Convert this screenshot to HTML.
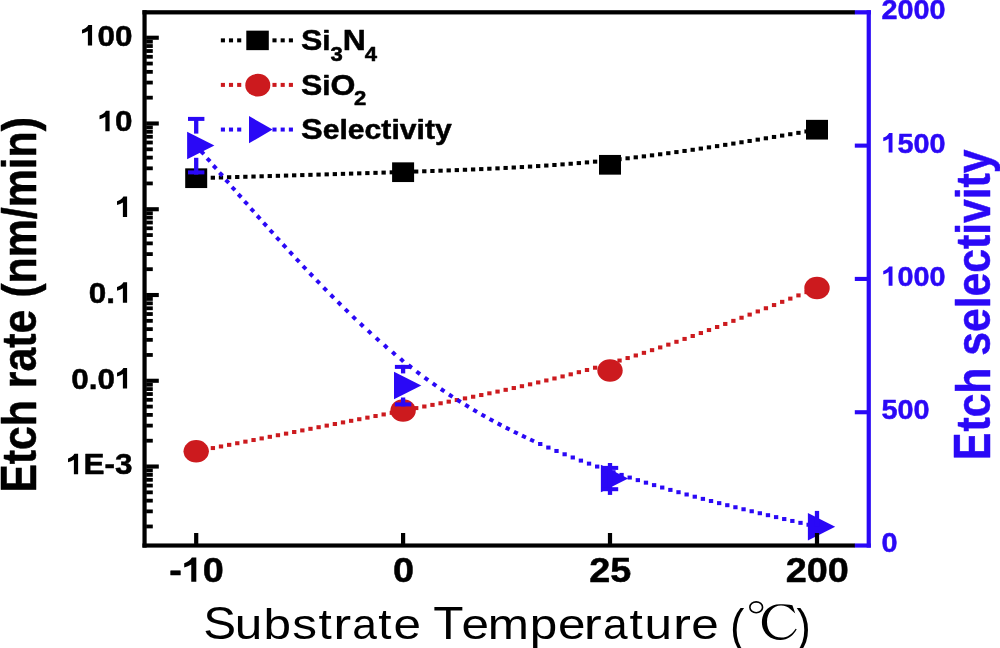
<!DOCTYPE html>
<html><head><meta charset="utf-8"><style>html,body{margin:0;padding:0;background:#fff;}svg{display:block;will-change:transform}</style></head>
<body><svg width="1000" height="648" viewBox="0 0 1000 648">
<rect width="1000" height="648" fill="#fff"/>
<g fill="#000"><rect x="-2.15" y="-2.00" width="4.3" height="4.0" transform="translate(196.57,178.19) rotate(0.0)"/><rect x="-2.15" y="-2.00" width="4.3" height="4.0" transform="translate(204.71,177.95) rotate(0.0)"/><rect x="-2.15" y="-2.00" width="4.3" height="4.0" transform="translate(212.84,177.72) rotate(0.0)"/><rect x="-2.15" y="-2.00" width="4.3" height="4.0" transform="translate(220.97,177.48) rotate(0.0)"/><rect x="-2.15" y="-2.00" width="4.3" height="4.0" transform="translate(229.11,177.24) rotate(0.0)"/><rect x="-2.15" y="-2.00" width="4.3" height="4.0" transform="translate(237.24,177.01) rotate(0.0)"/><rect x="-2.15" y="-2.00" width="4.3" height="4.0" transform="translate(245.37,176.77) rotate(0.0)"/><rect x="-2.15" y="-2.00" width="4.3" height="4.0" transform="translate(253.51,176.53) rotate(0.0)"/><rect x="-2.15" y="-2.00" width="4.3" height="4.0" transform="translate(261.64,176.29) rotate(0.0)"/><rect x="-2.15" y="-2.00" width="4.3" height="4.0" transform="translate(269.77,176.06) rotate(0.0)"/><rect x="-2.15" y="-2.00" width="4.3" height="4.0" transform="translate(277.90,175.82) rotate(0.0)"/><rect x="-2.15" y="-2.00" width="4.3" height="4.0" transform="translate(286.04,175.58) rotate(0.0)"/><rect x="-2.15" y="-2.00" width="4.3" height="4.0" transform="translate(294.17,175.33) rotate(0.0)"/><rect x="-2.15" y="-2.00" width="4.3" height="4.0" transform="translate(302.30,175.09) rotate(0.0)"/><rect x="-2.15" y="-2.00" width="4.3" height="4.0" transform="translate(310.44,174.85) rotate(0.0)"/><rect x="-2.15" y="-2.00" width="4.3" height="4.0" transform="translate(318.57,174.60) rotate(0.0)"/><rect x="-2.15" y="-2.00" width="4.3" height="4.0" transform="translate(326.70,174.36) rotate(0.0)"/><rect x="-2.15" y="-2.00" width="4.3" height="4.0" transform="translate(334.84,174.11) rotate(0.0)"/><rect x="-2.15" y="-2.00" width="4.3" height="4.0" transform="translate(342.97,173.86) rotate(0.0)"/><rect x="-2.15" y="-2.00" width="4.3" height="4.0" transform="translate(351.10,173.61) rotate(0.0)"/><rect x="-2.15" y="-2.00" width="4.3" height="4.0" transform="translate(359.23,173.36) rotate(0.0)"/><rect x="-2.15" y="-2.00" width="4.3" height="4.0" transform="translate(367.37,173.10) rotate(0.0)"/><rect x="-2.15" y="-2.00" width="4.3" height="4.0" transform="translate(375.50,172.85) rotate(0.0)"/><rect x="-2.15" y="-2.00" width="4.3" height="4.0" transform="translate(383.63,172.59) rotate(0.0)"/><rect x="-2.15" y="-2.00" width="4.3" height="4.0" transform="translate(391.77,172.33) rotate(0.0)"/><rect x="-2.15" y="-2.00" width="4.3" height="4.0" transform="translate(399.90,172.07) rotate(0.0)"/><rect x="-2.15" y="-2.00" width="4.3" height="4.0" transform="translate(408.03,171.81) rotate(0.0)"/><rect x="-2.15" y="-2.00" width="4.3" height="4.0" transform="translate(416.17,171.54) rotate(0.0)"/><rect x="-2.15" y="-2.00" width="4.3" height="4.0" transform="translate(424.30,171.27) rotate(0.0)"/><rect x="-2.15" y="-2.00" width="4.3" height="4.0" transform="translate(432.43,170.99) rotate(0.0)"/><rect x="-2.15" y="-2.00" width="4.3" height="4.0" transform="translate(440.56,170.70) rotate(0.0)"/><rect x="-2.15" y="-2.00" width="4.3" height="4.0" transform="translate(448.70,170.41) rotate(0.0)"/><rect x="-2.15" y="-2.00" width="4.3" height="4.0" transform="translate(456.83,170.10) rotate(0.0)"/><rect x="-2.15" y="-2.00" width="4.3" height="4.0" transform="translate(464.96,169.78) rotate(0.0)"/><rect x="-2.15" y="-2.00" width="4.3" height="4.0" transform="translate(473.10,169.45) rotate(0.0)"/><rect x="-2.15" y="-2.00" width="4.3" height="4.0" transform="translate(481.23,169.10) rotate(0.0)"/><rect x="-2.15" y="-2.00" width="4.3" height="4.0" transform="translate(489.36,168.73) rotate(0.0)"/><rect x="-2.15" y="-2.00" width="4.3" height="4.0" transform="translate(497.50,168.35) rotate(0.0)"/><rect x="-2.15" y="-2.00" width="4.3" height="4.0" transform="translate(505.63,167.94) rotate(0.0)"/><rect x="-2.15" y="-2.00" width="4.3" height="4.0" transform="translate(513.76,167.51) rotate(0.0)"/><rect x="-2.15" y="-2.00" width="4.3" height="4.0" transform="translate(521.89,167.06) rotate(0.0)"/><rect x="-2.15" y="-2.00" width="4.3" height="4.0" transform="translate(530.03,166.58) rotate(0.0)"/><rect x="-2.15" y="-2.00" width="4.3" height="4.0" transform="translate(538.16,166.08) rotate(0.0)"/><rect x="-2.15" y="-2.00" width="4.3" height="4.0" transform="translate(546.29,165.54) rotate(0.0)"/><rect x="-2.15" y="-2.00" width="4.3" height="4.0" transform="translate(554.43,164.98) rotate(0.0)"/><rect x="-2.15" y="-2.00" width="4.3" height="4.0" transform="translate(562.56,164.38) rotate(0.0)"/><rect x="-2.15" y="-2.00" width="4.3" height="4.0" transform="translate(570.69,163.75) rotate(0.0)"/><rect x="-2.15" y="-2.00" width="4.3" height="4.0" transform="translate(578.83,163.09) rotate(0.0)"/><rect x="-2.15" y="-2.00" width="4.3" height="4.0" transform="translate(586.96,162.39) rotate(0.0)"/><rect x="-2.15" y="-2.00" width="4.3" height="4.0" transform="translate(595.09,161.65) rotate(0.0)"/><rect x="-2.15" y="-2.00" width="4.3" height="4.0" transform="translate(603.22,160.87) rotate(0.0)"/><rect x="-2.15" y="-2.00" width="4.3" height="4.0" transform="translate(611.36,160.05) rotate(0.0)"/><rect x="-2.15" y="-2.00" width="4.3" height="4.0" transform="translate(619.49,159.18) rotate(0.0)"/><rect x="-2.15" y="-2.00" width="4.3" height="4.0" transform="translate(627.62,158.28) rotate(0.0)"/><rect x="-2.15" y="-2.00" width="4.3" height="4.0" transform="translate(635.76,157.34) rotate(0.0)"/><rect x="-2.15" y="-2.00" width="4.3" height="4.0" transform="translate(643.89,156.35) rotate(0.0)"/><rect x="-2.15" y="-2.00" width="4.3" height="4.0" transform="translate(652.02,155.34) rotate(0.0)"/><rect x="-2.15" y="-2.00" width="4.3" height="4.0" transform="translate(660.16,154.29) rotate(0.0)"/><rect x="-2.15" y="-2.00" width="4.3" height="4.0" transform="translate(668.29,153.21) rotate(0.0)"/><rect x="-2.15" y="-2.00" width="4.3" height="4.0" transform="translate(676.42,152.09) rotate(0.0)"/><rect x="-2.15" y="-2.00" width="4.3" height="4.0" transform="translate(684.55,150.95) rotate(0.0)"/><rect x="-2.15" y="-2.00" width="4.3" height="4.0" transform="translate(692.69,149.78) rotate(0.0)"/><rect x="-2.15" y="-2.00" width="4.3" height="4.0" transform="translate(700.82,148.58) rotate(0.0)"/><rect x="-2.15" y="-2.00" width="4.3" height="4.0" transform="translate(708.95,147.36) rotate(0.0)"/><rect x="-2.15" y="-2.00" width="4.3" height="4.0" transform="translate(717.09,146.12) rotate(0.0)"/><rect x="-2.15" y="-2.00" width="4.3" height="4.0" transform="translate(725.22,144.86) rotate(0.0)"/><rect x="-2.15" y="-2.00" width="4.3" height="4.0" transform="translate(733.35,143.58) rotate(0.0)"/><rect x="-2.15" y="-2.00" width="4.3" height="4.0" transform="translate(741.49,142.28) rotate(0.0)"/><rect x="-2.15" y="-2.00" width="4.3" height="4.0" transform="translate(749.62,140.97) rotate(0.0)"/><rect x="-2.15" y="-2.00" width="4.3" height="4.0" transform="translate(757.75,139.64) rotate(0.0)"/><rect x="-2.15" y="-2.00" width="4.3" height="4.0" transform="translate(765.88,138.30) rotate(0.0)"/><rect x="-2.15" y="-2.00" width="4.3" height="4.0" transform="translate(774.02,136.95) rotate(0.0)"/><rect x="-2.15" y="-2.00" width="4.3" height="4.0" transform="translate(782.15,135.59) rotate(0.0)"/><rect x="-2.15" y="-2.00" width="4.3" height="4.0" transform="translate(790.28,134.22) rotate(0.0)"/><rect x="-2.15" y="-2.00" width="4.3" height="4.0" transform="translate(798.42,132.85) rotate(0.0)"/><rect x="-2.15" y="-2.00" width="4.3" height="4.0" transform="translate(806.55,131.47) rotate(0.0)"/><rect x="-2.15" y="-2.00" width="4.3" height="4.0" transform="translate(814.68,130.09) rotate(0.0)"/></g>
<g fill="#cc1a1e"><rect x="-2.15" y="-2.00" width="4.3" height="4.0" transform="translate(196.61,451.27) rotate(0.0)"/><rect x="-2.15" y="-2.00" width="4.3" height="4.0" transform="translate(204.75,449.66) rotate(0.0)"/><rect x="-2.15" y="-2.00" width="4.3" height="4.0" transform="translate(212.88,448.06) rotate(0.0)"/><rect x="-2.15" y="-2.00" width="4.3" height="4.0" transform="translate(221.01,446.45) rotate(0.0)"/><rect x="-2.15" y="-2.00" width="4.3" height="4.0" transform="translate(229.15,444.85) rotate(0.0)"/><rect x="-2.15" y="-2.00" width="4.3" height="4.0" transform="translate(237.28,443.24) rotate(0.0)"/><rect x="-2.15" y="-2.00" width="4.3" height="4.0" transform="translate(245.41,441.64) rotate(0.0)"/><rect x="-2.15" y="-2.00" width="4.3" height="4.0" transform="translate(253.55,440.03) rotate(0.0)"/><rect x="-2.15" y="-2.00" width="4.3" height="4.0" transform="translate(261.68,438.43) rotate(0.0)"/><rect x="-2.15" y="-2.00" width="4.3" height="4.0" transform="translate(269.81,436.82) rotate(0.0)"/><rect x="-2.15" y="-2.00" width="4.3" height="4.0" transform="translate(277.94,435.22) rotate(0.0)"/><rect x="-2.15" y="-2.00" width="4.3" height="4.0" transform="translate(286.08,433.62) rotate(0.0)"/><rect x="-2.15" y="-2.00" width="4.3" height="4.0" transform="translate(294.21,432.01) rotate(0.0)"/><rect x="-2.15" y="-2.00" width="4.3" height="4.0" transform="translate(302.34,430.41) rotate(0.0)"/><rect x="-2.15" y="-2.00" width="4.3" height="4.0" transform="translate(310.48,428.81) rotate(0.0)"/><rect x="-2.15" y="-2.00" width="4.3" height="4.0" transform="translate(318.61,427.21) rotate(0.0)"/><rect x="-2.15" y="-2.00" width="4.3" height="4.0" transform="translate(326.74,425.61) rotate(0.0)"/><rect x="-2.15" y="-2.00" width="4.3" height="4.0" transform="translate(334.88,424.01) rotate(0.0)"/><rect x="-2.15" y="-2.00" width="4.3" height="4.0" transform="translate(343.01,422.41) rotate(0.0)"/><rect x="-2.15" y="-2.00" width="4.3" height="4.0" transform="translate(351.14,420.82) rotate(0.0)"/><rect x="-2.15" y="-2.00" width="4.3" height="4.0" transform="translate(359.27,419.22) rotate(0.0)"/><rect x="-2.15" y="-2.00" width="4.3" height="4.0" transform="translate(367.41,417.63) rotate(0.0)"/><rect x="-2.15" y="-2.00" width="4.3" height="4.0" transform="translate(375.54,416.03) rotate(0.0)"/><rect x="-2.15" y="-2.00" width="4.3" height="4.0" transform="translate(383.67,414.44) rotate(0.0)"/><rect x="-2.15" y="-2.00" width="4.3" height="4.0" transform="translate(391.81,412.85) rotate(0.0)"/><rect x="-2.15" y="-2.00" width="4.3" height="4.0" transform="translate(399.94,411.26) rotate(0.0)"/><rect x="-2.15" y="-2.00" width="4.3" height="4.0" transform="translate(408.07,409.67) rotate(0.0)"/><rect x="-2.15" y="-2.00" width="4.3" height="4.0" transform="translate(416.21,408.08) rotate(0.0)"/><rect x="-2.15" y="-2.00" width="4.3" height="4.0" transform="translate(424.34,406.49) rotate(0.0)"/><rect x="-2.15" y="-2.00" width="4.3" height="4.0" transform="translate(432.47,404.89) rotate(0.0)"/><rect x="-2.15" y="-2.00" width="4.3" height="4.0" transform="translate(440.60,403.28) rotate(0.0)"/><rect x="-2.15" y="-2.00" width="4.3" height="4.0" transform="translate(448.74,401.67) rotate(0.0)"/><rect x="-2.15" y="-2.00" width="4.3" height="4.0" transform="translate(456.87,400.04) rotate(0.0)"/><rect x="-2.15" y="-2.00" width="4.3" height="4.0" transform="translate(465.00,398.39) rotate(0.0)"/><rect x="-2.15" y="-2.00" width="4.3" height="4.0" transform="translate(473.14,396.73) rotate(0.0)"/><rect x="-2.15" y="-2.00" width="4.3" height="4.0" transform="translate(481.27,395.04) rotate(0.0)"/><rect x="-2.15" y="-2.00" width="4.3" height="4.0" transform="translate(489.40,393.33) rotate(0.0)"/><rect x="-2.15" y="-2.00" width="4.3" height="4.0" transform="translate(497.54,391.59) rotate(0.0)"/><rect x="-2.15" y="-2.00" width="4.3" height="4.0" transform="translate(505.67,389.83) rotate(0.0)"/><rect x="-2.15" y="-2.00" width="4.3" height="4.0" transform="translate(513.80,388.03) rotate(0.0)"/><rect x="-2.15" y="-2.00" width="4.3" height="4.0" transform="translate(521.93,386.20) rotate(0.0)"/><rect x="-2.15" y="-2.00" width="4.3" height="4.0" transform="translate(530.07,384.33) rotate(0.0)"/><rect x="-2.15" y="-2.00" width="4.3" height="4.0" transform="translate(538.20,382.42) rotate(0.0)"/><rect x="-2.15" y="-2.00" width="4.3" height="4.0" transform="translate(546.33,380.46) rotate(0.0)"/><rect x="-2.15" y="-2.00" width="4.3" height="4.0" transform="translate(554.47,378.47) rotate(0.0)"/><rect x="-2.15" y="-2.00" width="4.3" height="4.0" transform="translate(562.60,376.42) rotate(0.0)"/><rect x="-2.15" y="-2.00" width="4.3" height="4.0" transform="translate(570.73,374.33) rotate(0.0)"/><rect x="-2.15" y="-2.00" width="4.3" height="4.0" transform="translate(578.87,372.18) rotate(0.0)"/><rect x="-2.15" y="-2.00" width="4.3" height="4.0" transform="translate(587.00,369.98) rotate(0.0)"/><rect x="-2.15" y="-2.00" width="4.3" height="4.0" transform="translate(595.13,367.71) rotate(0.0)"/><rect x="-2.15" y="-2.00" width="4.3" height="4.0" transform="translate(603.26,365.39) rotate(0.0)"/><rect x="-2.15" y="-2.00" width="4.3" height="4.0" transform="translate(611.40,363.01) rotate(0.0)"/><rect x="-2.15" y="-2.00" width="4.3" height="4.0" transform="translate(619.53,360.56) rotate(0.0)"/><rect x="-2.15" y="-2.00" width="4.3" height="4.0" transform="translate(627.66,358.04) rotate(0.0)"/><rect x="-2.15" y="-2.00" width="4.3" height="4.0" transform="translate(635.80,355.47) rotate(0.0)"/><rect x="-2.15" y="-2.00" width="4.3" height="4.0" transform="translate(643.93,352.84) rotate(0.0)"/><rect x="-2.15" y="-2.00" width="4.3" height="4.0" transform="translate(652.06,350.16) rotate(0.0)"/><rect x="-2.15" y="-2.00" width="4.3" height="4.0" transform="translate(660.20,347.42) rotate(0.0)"/><rect x="-2.15" y="-2.00" width="4.3" height="4.0" transform="translate(668.33,344.63) rotate(0.0)"/><rect x="-2.15" y="-2.00" width="4.3" height="4.0" transform="translate(676.46,341.80) rotate(0.0)"/><rect x="-2.15" y="-2.00" width="4.3" height="4.0" transform="translate(684.59,338.92) rotate(0.0)"/><rect x="-2.15" y="-2.00" width="4.3" height="4.0" transform="translate(692.73,336.00) rotate(0.0)"/><rect x="-2.15" y="-2.00" width="4.3" height="4.0" transform="translate(700.86,333.04) rotate(0.0)"/><rect x="-2.15" y="-2.00" width="4.3" height="4.0" transform="translate(708.99,330.04) rotate(0.0)"/><rect x="-2.15" y="-2.00" width="4.3" height="4.0" transform="translate(717.13,327.01) rotate(0.0)"/><rect x="-2.15" y="-2.00" width="4.3" height="4.0" transform="translate(725.26,323.95) rotate(0.0)"/><rect x="-2.15" y="-2.00" width="4.3" height="4.0" transform="translate(733.39,320.86) rotate(0.0)"/><rect x="-2.15" y="-2.00" width="4.3" height="4.0" transform="translate(741.53,317.74) rotate(0.0)"/><rect x="-2.15" y="-2.00" width="4.3" height="4.0" transform="translate(749.66,314.60) rotate(0.0)"/><rect x="-2.15" y="-2.00" width="4.3" height="4.0" transform="translate(757.79,311.43) rotate(0.0)"/><rect x="-2.15" y="-2.00" width="4.3" height="4.0" transform="translate(765.92,308.25) rotate(0.0)"/><rect x="-2.15" y="-2.00" width="4.3" height="4.0" transform="translate(774.06,305.05) rotate(0.0)"/><rect x="-2.15" y="-2.00" width="4.3" height="4.0" transform="translate(782.19,301.84) rotate(0.0)"/><rect x="-2.15" y="-2.00" width="4.3" height="4.0" transform="translate(790.32,298.62) rotate(0.0)"/><rect x="-2.15" y="-2.00" width="4.3" height="4.0" transform="translate(798.46,295.39) rotate(0.0)"/><rect x="-2.15" y="-2.00" width="4.3" height="4.0" transform="translate(806.59,292.15) rotate(0.0)"/><rect x="-2.15" y="-2.00" width="4.3" height="4.0" transform="translate(814.72,288.91) rotate(0.0)"/></g>
<g fill="#2a08f6"><rect x="-2.15" y="-2.00" width="4.3" height="4.0" transform="translate(196.20,145.50) rotate(45.0)"/><rect x="-2.15" y="-2.00" width="4.3" height="4.0" transform="translate(202.39,152.68) rotate(45.0)"/><rect x="-2.15" y="-2.00" width="4.3" height="4.0" transform="translate(208.59,159.86) rotate(45.0)"/><rect x="-2.15" y="-2.00" width="4.3" height="4.0" transform="translate(214.79,167.04) rotate(45.0)"/><rect x="-2.15" y="-2.00" width="4.3" height="4.0" transform="translate(221.00,174.22) rotate(45.0)"/><rect x="-2.15" y="-2.00" width="4.3" height="4.0" transform="translate(227.23,181.40) rotate(45.0)"/><rect x="-2.15" y="-2.00" width="4.3" height="4.0" transform="translate(233.47,188.58) rotate(45.0)"/><rect x="-2.15" y="-2.00" width="4.3" height="4.0" transform="translate(239.73,195.76) rotate(45.0)"/><rect x="-2.15" y="-2.00" width="4.3" height="4.0" transform="translate(246.02,202.94) rotate(45.0)"/><rect x="-2.15" y="-2.00" width="4.3" height="4.0" transform="translate(252.34,210.12) rotate(45.0)"/><rect x="-2.15" y="-2.00" width="4.3" height="4.0" transform="translate(258.69,217.30) rotate(45.0)"/><rect x="-2.15" y="-2.00" width="4.3" height="4.0" transform="translate(265.08,224.48) rotate(45.0)"/><rect x="-2.15" y="-2.00" width="4.3" height="4.0" transform="translate(271.51,231.66) rotate(45.0)"/><rect x="-2.15" y="-2.00" width="4.3" height="4.0" transform="translate(277.99,238.84) rotate(45.0)"/><rect x="-2.15" y="-2.00" width="4.3" height="4.0" transform="translate(284.52,246.02) rotate(45.0)"/><rect x="-2.15" y="-2.00" width="4.3" height="4.0" transform="translate(291.10,253.20) rotate(45.0)"/><rect x="-2.15" y="-2.00" width="4.3" height="4.0" transform="translate(297.75,260.38) rotate(45.0)"/><rect x="-2.15" y="-2.00" width="4.3" height="4.0" transform="translate(304.47,267.56) rotate(45.0)"/><rect x="-2.15" y="-2.00" width="4.3" height="4.0" transform="translate(311.27,274.74) rotate(45.0)"/><rect x="-2.15" y="-2.00" width="4.3" height="4.0" transform="translate(318.15,281.92) rotate(45.0)"/><rect x="-2.15" y="-2.00" width="4.3" height="4.0" transform="translate(325.13,289.10) rotate(45.0)"/><rect x="-2.15" y="-2.00" width="4.3" height="4.0" transform="translate(332.21,296.28) rotate(45.0)"/><rect x="-2.15" y="-2.00" width="4.3" height="4.0" transform="translate(339.40,303.46) rotate(45.0)"/><rect x="-2.15" y="-2.00" width="4.3" height="4.0" transform="translate(346.72,310.64) rotate(45.0)"/><rect x="-2.15" y="-2.00" width="4.3" height="4.0" transform="translate(354.18,317.82) rotate(45.0)"/><rect x="-2.15" y="-2.00" width="4.3" height="4.0" transform="translate(361.80,325.00) rotate(45.0)"/><rect x="-2.15" y="-2.00" width="4.3" height="4.0" transform="translate(369.59,332.18) rotate(45.0)"/><rect x="-2.15" y="-2.00" width="4.3" height="4.0" transform="translate(377.58,339.36) rotate(45.0)"/><rect x="-2.15" y="-2.00" width="4.3" height="4.0" transform="translate(385.71,346.47) rotate(45.0)"/><rect x="-2.15" y="-2.00" width="4.3" height="4.0" transform="translate(393.85,353.37) rotate(45.0)"/><rect x="-2.15" y="-2.00" width="4.3" height="4.0" transform="translate(401.98,360.06) rotate(45.0)"/><rect x="-2.15" y="-2.00" width="4.3" height="4.0" transform="translate(410.11,366.52) rotate(38.0)"/><rect x="-2.15" y="-2.00" width="4.3" height="4.0" transform="translate(418.24,372.77) rotate(37.0)"/><rect x="-2.15" y="-2.00" width="4.3" height="4.0" transform="translate(426.38,378.79) rotate(36.1)"/><rect x="-2.15" y="-2.00" width="4.3" height="4.0" transform="translate(434.51,384.61) rotate(35.1)"/><rect x="-2.15" y="-2.00" width="4.3" height="4.0" transform="translate(442.64,390.22) rotate(34.1)"/><rect x="-2.15" y="-2.00" width="4.3" height="4.0" transform="translate(450.78,395.64) rotate(33.1)"/><rect x="-2.15" y="-2.00" width="4.3" height="4.0" transform="translate(458.91,400.87) rotate(32.3)"/><rect x="-2.15" y="-2.00" width="4.3" height="4.0" transform="translate(467.04,405.91) rotate(31.4)"/><rect x="-2.15" y="-2.00" width="4.3" height="4.0" transform="translate(475.18,410.77) rotate(30.4)"/><rect x="-2.15" y="-2.00" width="4.3" height="4.0" transform="translate(483.31,415.46) rotate(29.5)"/><rect x="-2.15" y="-2.00" width="4.3" height="4.0" transform="translate(491.44,419.99) rotate(28.6)"/><rect x="-2.15" y="-2.00" width="4.3" height="4.0" transform="translate(499.57,424.36) rotate(27.8)"/><rect x="-2.15" y="-2.00" width="4.3" height="4.0" transform="translate(507.71,428.57) rotate(26.9)"/><rect x="-2.15" y="-2.00" width="4.3" height="4.0" transform="translate(515.84,432.63) rotate(26.2)"/><rect x="-2.15" y="-2.00" width="4.3" height="4.0" transform="translate(523.97,436.56) rotate(25.4)"/><rect x="-2.15" y="-2.00" width="4.3" height="4.0" transform="translate(532.11,440.35) rotate(24.6)"/><rect x="-2.15" y="-2.00" width="4.3" height="4.0" transform="translate(540.24,444.01) rotate(0.0)"/><rect x="-2.15" y="-2.00" width="4.3" height="4.0" transform="translate(548.37,447.55) rotate(0.0)"/><rect x="-2.15" y="-2.00" width="4.3" height="4.0" transform="translate(556.51,450.97) rotate(0.0)"/><rect x="-2.15" y="-2.00" width="4.3" height="4.0" transform="translate(564.64,454.28) rotate(0.0)"/><rect x="-2.15" y="-2.00" width="4.3" height="4.0" transform="translate(572.77,457.49) rotate(0.0)"/><rect x="-2.15" y="-2.00" width="4.3" height="4.0" transform="translate(580.90,460.60) rotate(0.0)"/><rect x="-2.15" y="-2.00" width="4.3" height="4.0" transform="translate(589.04,463.62) rotate(0.0)"/><rect x="-2.15" y="-2.00" width="4.3" height="4.0" transform="translate(597.17,466.55) rotate(0.0)"/><rect x="-2.15" y="-2.00" width="4.3" height="4.0" transform="translate(605.30,469.40) rotate(0.0)"/><rect x="-2.15" y="-2.00" width="4.3" height="4.0" transform="translate(613.44,472.19) rotate(0.0)"/><rect x="-2.15" y="-2.00" width="4.3" height="4.0" transform="translate(621.57,474.90) rotate(0.0)"/><rect x="-2.15" y="-2.00" width="4.3" height="4.0" transform="translate(629.70,477.55) rotate(0.0)"/><rect x="-2.15" y="-2.00" width="4.3" height="4.0" transform="translate(637.84,480.13) rotate(0.0)"/><rect x="-2.15" y="-2.00" width="4.3" height="4.0" transform="translate(645.97,482.66) rotate(0.0)"/><rect x="-2.15" y="-2.00" width="4.3" height="4.0" transform="translate(654.10,485.12) rotate(0.0)"/><rect x="-2.15" y="-2.00" width="4.3" height="4.0" transform="translate(662.23,487.54) rotate(0.0)"/><rect x="-2.15" y="-2.00" width="4.3" height="4.0" transform="translate(670.37,489.90) rotate(0.0)"/><rect x="-2.15" y="-2.00" width="4.3" height="4.0" transform="translate(678.50,492.21) rotate(0.0)"/><rect x="-2.15" y="-2.00" width="4.3" height="4.0" transform="translate(686.63,494.48) rotate(0.0)"/><rect x="-2.15" y="-2.00" width="4.3" height="4.0" transform="translate(694.77,496.70) rotate(0.0)"/><rect x="-2.15" y="-2.00" width="4.3" height="4.0" transform="translate(702.90,498.88) rotate(0.0)"/><rect x="-2.15" y="-2.00" width="4.3" height="4.0" transform="translate(711.03,501.02) rotate(0.0)"/><rect x="-2.15" y="-2.00" width="4.3" height="4.0" transform="translate(719.17,503.13) rotate(0.0)"/><rect x="-2.15" y="-2.00" width="4.3" height="4.0" transform="translate(727.30,505.20) rotate(0.0)"/><rect x="-2.15" y="-2.00" width="4.3" height="4.0" transform="translate(735.43,507.25) rotate(0.0)"/><rect x="-2.15" y="-2.00" width="4.3" height="4.0" transform="translate(743.56,509.27) rotate(0.0)"/><rect x="-2.15" y="-2.00" width="4.3" height="4.0" transform="translate(751.70,511.26) rotate(0.0)"/><rect x="-2.15" y="-2.00" width="4.3" height="4.0" transform="translate(759.83,513.23) rotate(0.0)"/><rect x="-2.15" y="-2.00" width="4.3" height="4.0" transform="translate(767.96,515.18) rotate(0.0)"/><rect x="-2.15" y="-2.00" width="4.3" height="4.0" transform="translate(776.10,517.12) rotate(0.0)"/><rect x="-2.15" y="-2.00" width="4.3" height="4.0" transform="translate(784.23,519.04) rotate(0.0)"/><rect x="-2.15" y="-2.00" width="4.3" height="4.0" transform="translate(792.36,520.95) rotate(0.0)"/><rect x="-2.15" y="-2.00" width="4.3" height="4.0" transform="translate(800.50,522.85) rotate(0.0)"/><rect x="-2.15" y="-2.00" width="4.3" height="4.0" transform="translate(808.63,524.75) rotate(0.0)"/><rect x="-2.15" y="-2.00" width="4.3" height="4.0" transform="translate(816.76,526.64) rotate(0.0)"/></g>
<rect x="185.20" y="168.35" width="22.00" height="19.70" fill="#000"/>
<rect x="392.10" y="162.35" width="22.00" height="19.70" fill="#000"/>
<rect x="599.00" y="154.95" width="22.00" height="19.70" fill="#000"/>
<rect x="806.00" y="119.85" width="22.00" height="19.70" fill="#000"/>
<ellipse cx="196.20" cy="451.35" rx="12.7" ry="11.25" fill="#cc1a1e"/>
<ellipse cx="403.10" cy="410.50" rx="12.7" ry="11.25" fill="#cc1a1e"/>
<ellipse cx="610.00" cy="370.50" rx="12.7" ry="11.25" fill="#cc1a1e"/>
<ellipse cx="817.00" cy="288.00" rx="12.7" ry="11.25" fill="#cc1a1e"/>
<polygon points="187.10,131.70 187.10,159.30 214.40,145.50" fill="#2a08f6"/>
<polygon points="394.00,371.65 394.00,399.25 421.30,385.45" fill="#2a08f6"/>
<polygon points="600.90,464.70 600.90,492.30 628.20,478.50" fill="#2a08f6"/>
<polygon points="807.90,512.90 807.90,540.50 835.20,526.70" fill="#2a08f6"/>
<rect x="194.05" y="117.00" width="4.30" height="16.60" fill="#2a08f6"/><rect x="194.05" y="157.80" width="4.30" height="16.80" fill="#2a08f6"/><rect x="188.00" y="116.90" width="16.40" height="4.00" fill="#2a08f6"/><rect x="188.00" y="170.40" width="16.40" height="4.00" fill="#2a08f6"/>
<rect x="400.95" y="364.90" width="4.30" height="8.50" fill="#2a08f6"/><rect x="400.95" y="397.50" width="4.30" height="8.90" fill="#2a08f6"/><rect x="394.90" y="364.90" width="16.40" height="4.00" fill="#2a08f6"/><rect x="394.90" y="402.40" width="16.40" height="4.00" fill="#2a08f6"/>
<rect x="607.85" y="463.00" width="4.30" height="31.90" fill="#2a08f6"/><rect x="601.80" y="465.90" width="16.40" height="4.00" fill="#2a08f6"/><rect x="601.80" y="487.20" width="16.40" height="4.00" fill="#2a08f6"/>
<rect x="814.85" y="510.90" width="4.30" height="15.80" fill="#2a08f6"/>
<rect x="142.45" y="10.20" width="4.20" height="537.40" fill="#000"/>
<rect x="142.45" y="10.20" width="712.55" height="4.25" fill="#000"/>
<rect x="142.45" y="543.45" width="712.55" height="4.15" fill="#000"/>
<rect x="854.80" y="10.20" width="16.05" height="4.25" fill="#2a08f6"/>
<rect x="854.80" y="543.45" width="16.05" height="4.15" fill="#2a08f6"/>
<rect x="866.65" y="10.20" width="4.20" height="537.40" fill="#2a08f6"/>
<rect x="146.15" y="524.57" width="6.65" height="3.80" fill="#000"/>
<rect x="146.15" y="509.47" width="6.65" height="3.80" fill="#000"/>
<rect x="146.15" y="498.76" width="6.65" height="3.80" fill="#000"/>
<rect x="146.15" y="490.45" width="6.65" height="3.80" fill="#000"/>
<rect x="146.15" y="483.66" width="6.65" height="3.80" fill="#000"/>
<rect x="146.15" y="477.91" width="6.65" height="3.80" fill="#000"/>
<rect x="146.15" y="472.94" width="6.65" height="3.80" fill="#000"/>
<rect x="146.15" y="468.55" width="6.65" height="3.80" fill="#000"/>
<rect x="146.15" y="464.48" width="12.65" height="4.10" fill="#000"/>
<rect x="146.15" y="438.81" width="6.65" height="3.80" fill="#000"/>
<rect x="146.15" y="423.71" width="6.65" height="3.80" fill="#000"/>
<rect x="146.15" y="413.00" width="6.65" height="3.80" fill="#000"/>
<rect x="146.15" y="404.69" width="6.65" height="3.80" fill="#000"/>
<rect x="146.15" y="397.90" width="6.65" height="3.80" fill="#000"/>
<rect x="146.15" y="392.15" width="6.65" height="3.80" fill="#000"/>
<rect x="146.15" y="387.18" width="6.65" height="3.80" fill="#000"/>
<rect x="146.15" y="382.79" width="6.65" height="3.80" fill="#000"/>
<rect x="146.15" y="378.72" width="12.65" height="4.10" fill="#000"/>
<rect x="146.15" y="353.05" width="6.65" height="3.80" fill="#000"/>
<rect x="146.15" y="337.95" width="6.65" height="3.80" fill="#000"/>
<rect x="146.15" y="327.24" width="6.65" height="3.80" fill="#000"/>
<rect x="146.15" y="318.93" width="6.65" height="3.80" fill="#000"/>
<rect x="146.15" y="312.14" width="6.65" height="3.80" fill="#000"/>
<rect x="146.15" y="306.39" width="6.65" height="3.80" fill="#000"/>
<rect x="146.15" y="301.42" width="6.65" height="3.80" fill="#000"/>
<rect x="146.15" y="297.03" width="6.65" height="3.80" fill="#000"/>
<rect x="146.15" y="292.96" width="12.65" height="4.10" fill="#000"/>
<rect x="146.15" y="267.29" width="6.65" height="3.80" fill="#000"/>
<rect x="146.15" y="252.19" width="6.65" height="3.80" fill="#000"/>
<rect x="146.15" y="241.48" width="6.65" height="3.80" fill="#000"/>
<rect x="146.15" y="233.17" width="6.65" height="3.80" fill="#000"/>
<rect x="146.15" y="226.38" width="6.65" height="3.80" fill="#000"/>
<rect x="146.15" y="220.63" width="6.65" height="3.80" fill="#000"/>
<rect x="146.15" y="215.66" width="6.65" height="3.80" fill="#000"/>
<rect x="146.15" y="211.27" width="6.65" height="3.80" fill="#000"/>
<rect x="146.15" y="207.20" width="12.65" height="4.10" fill="#000"/>
<rect x="146.15" y="181.53" width="6.65" height="3.80" fill="#000"/>
<rect x="146.15" y="166.43" width="6.65" height="3.80" fill="#000"/>
<rect x="146.15" y="155.72" width="6.65" height="3.80" fill="#000"/>
<rect x="146.15" y="147.41" width="6.65" height="3.80" fill="#000"/>
<rect x="146.15" y="140.62" width="6.65" height="3.80" fill="#000"/>
<rect x="146.15" y="134.87" width="6.65" height="3.80" fill="#000"/>
<rect x="146.15" y="129.90" width="6.65" height="3.80" fill="#000"/>
<rect x="146.15" y="125.51" width="6.65" height="3.80" fill="#000"/>
<rect x="146.15" y="121.44" width="12.65" height="4.10" fill="#000"/>
<rect x="146.15" y="95.77" width="6.65" height="3.80" fill="#000"/>
<rect x="146.15" y="80.67" width="6.65" height="3.80" fill="#000"/>
<rect x="146.15" y="69.96" width="6.65" height="3.80" fill="#000"/>
<rect x="146.15" y="61.65" width="6.65" height="3.80" fill="#000"/>
<rect x="146.15" y="54.86" width="6.65" height="3.80" fill="#000"/>
<rect x="146.15" y="49.11" width="6.65" height="3.80" fill="#000"/>
<rect x="146.15" y="44.14" width="6.65" height="3.80" fill="#000"/>
<rect x="146.15" y="39.75" width="6.65" height="3.80" fill="#000"/>
<rect x="146.15" y="35.68" width="12.65" height="4.10" fill="#000"/>
<rect x="194.10" y="533.00" width="4.20" height="10.95" fill="#000"/>
<rect x="401.00" y="533.00" width="4.20" height="10.95" fill="#000"/>
<rect x="607.90" y="533.00" width="4.20" height="10.95" fill="#000"/>
<rect x="814.90" y="533.00" width="4.20" height="10.95" fill="#000"/>
<rect x="854.80" y="410.19" width="12.35" height="4.10" fill="#2a08f6"/>
<rect x="854.80" y="276.88" width="12.35" height="4.10" fill="#2a08f6"/>
<rect x="854.80" y="143.57" width="12.35" height="4.10" fill="#2a08f6"/>
<g transform="translate(132.50,474.33) scale(1.0600,1)" fill="#000" stroke="#000" stroke-width="0.5" stroke-linejoin="round"><path d="M 788 0 L 788 1420 L 548 1420 Q 480 1290 370 1215 Q 260 1140 132 1090 L 132 830 Q 340 895 514 1010 L 514 0 Z" transform="translate(-62.74,0) scale(0.01450,-0.01450)"/><text x="-46.22" y="0" font-family="Liberation Sans" font-weight="bold" font-size="29.7">E-3</text></g>
<g transform="translate(132.50,388.57) scale(1.0600,1)" fill="#000" stroke="#000" stroke-width="0.5" stroke-linejoin="round"><text x="-57.80" y="0" font-family="Liberation Sans" font-weight="bold" font-size="29.7">0.0</text><path d="M 788 0 L 788 1420 L 548 1420 Q 480 1290 370 1215 Q 260 1140 132 1090 L 132 830 Q 340 895 514 1010 L 514 0 Z" transform="translate(-16.52,0) scale(0.01450,-0.01450)"/></g>
<g transform="translate(132.50,302.81) scale(1.0600,1)" fill="#000" stroke="#000" stroke-width="0.5" stroke-linejoin="round"><text x="-41.29" y="0" font-family="Liberation Sans" font-weight="bold" font-size="29.7">0.</text><path d="M 788 0 L 788 1420 L 548 1420 Q 480 1290 370 1215 Q 260 1140 132 1090 L 132 830 Q 340 895 514 1010 L 514 0 Z" transform="translate(-16.52,0) scale(0.01450,-0.01450)"/></g>
<g transform="translate(132.50,217.05) scale(1.0600,1)" fill="#000" stroke="#000" stroke-width="0.5" stroke-linejoin="round"><path d="M 788 0 L 788 1420 L 548 1420 Q 480 1290 370 1215 Q 260 1140 132 1090 L 132 830 Q 340 895 514 1010 L 514 0 Z" transform="translate(-16.52,0) scale(0.01450,-0.01450)"/></g>
<g transform="translate(132.50,131.29) scale(1.0600,1)" fill="#000" stroke="#000" stroke-width="0.5" stroke-linejoin="round"><path d="M 788 0 L 788 1420 L 548 1420 Q 480 1290 370 1215 Q 260 1140 132 1090 L 132 830 Q 340 895 514 1010 L 514 0 Z" transform="translate(-33.04,0) scale(0.01450,-0.01450)"/><text x="-16.52" y="0" font-family="Liberation Sans" font-weight="bold" font-size="29.7">0</text></g>
<g transform="translate(132.50,45.53) scale(1.0600,1)" fill="#000" stroke="#000" stroke-width="0.5" stroke-linejoin="round"><path d="M 788 0 L 788 1420 L 548 1420 Q 480 1290 370 1215 Q 260 1140 132 1090 L 132 830 Q 340 895 514 1010 L 514 0 Z" transform="translate(-49.55,0) scale(0.01450,-0.01450)"/><text x="-33.04" y="0" font-family="Liberation Sans" font-weight="bold" font-size="29.7">00</text></g>
<g transform="translate(881.40,552.45) scale(1.0300,1)" fill="#2a08f6" stroke="#2a08f6" stroke-width="0.5" stroke-linejoin="round"><text x="0.00" y="0" font-family="Liberation Sans" font-weight="bold" font-size="28.0">0</text></g>
<g transform="translate(881.40,419.14) scale(1.0300,1)" fill="#2a08f6" stroke="#2a08f6" stroke-width="0.5" stroke-linejoin="round"><text x="0.00" y="0" font-family="Liberation Sans" font-weight="bold" font-size="28.0">500</text></g>
<g transform="translate(881.40,285.83) scale(1.0300,1)" fill="#2a08f6" stroke="#2a08f6" stroke-width="0.5" stroke-linejoin="round"><path d="M 788 0 L 788 1420 L 548 1420 Q 480 1290 370 1215 Q 260 1140 132 1090 L 132 830 Q 340 895 514 1010 L 514 0 Z" transform="translate(0.00,0) scale(0.01367,-0.01367)"/><text x="15.57" y="0" font-family="Liberation Sans" font-weight="bold" font-size="28.0">000</text></g>
<g transform="translate(881.40,152.52) scale(1.0300,1)" fill="#2a08f6" stroke="#2a08f6" stroke-width="0.5" stroke-linejoin="round"><path d="M 788 0 L 788 1420 L 548 1420 Q 480 1290 370 1215 Q 260 1140 132 1090 L 132 830 Q 340 895 514 1010 L 514 0 Z" transform="translate(0.00,0) scale(0.01367,-0.01367)"/><text x="15.57" y="0" font-family="Liberation Sans" font-weight="bold" font-size="28.0">500</text></g>
<g transform="translate(881.40,19.21) scale(1.0300,1)" fill="#2a08f6" stroke="#2a08f6" stroke-width="0.5" stroke-linejoin="round"><text x="0.00" y="0" font-family="Liberation Sans" font-weight="bold" font-size="28.0">2000</text></g>
<g transform="translate(196.50,581.80) scale(1.0800,1)" fill="#000" stroke="#000" stroke-width="0.5" stroke-linejoin="round"><text x="-25.29" y="0" font-family="Liberation Sans" font-weight="bold" font-size="35.0">-</text><path d="M 788 0 L 788 1420 L 548 1420 Q 480 1290 370 1215 Q 260 1140 132 1090 L 132 830 Q 340 895 514 1010 L 514 0 Z" transform="translate(-13.64,0) scale(0.01709,-0.01709)"/><text x="5.83" y="0" font-family="Liberation Sans" font-weight="bold" font-size="35.0">0</text></g>
<g transform="translate(403.40,581.80) scale(1.0800,1)" fill="#000" stroke="#000" stroke-width="0.5" stroke-linejoin="round"><text x="-9.73" y="0" font-family="Liberation Sans" font-weight="bold" font-size="35.0">0</text></g>
<g transform="translate(610.30,581.80) scale(1.0800,1)" fill="#000" stroke="#000" stroke-width="0.5" stroke-linejoin="round"><text x="-19.47" y="0" font-family="Liberation Sans" font-weight="bold" font-size="35.0">25</text></g>
<g transform="translate(817.30,581.80) scale(1.0800,1)" fill="#000" stroke="#000" stroke-width="0.5" stroke-linejoin="round"><text x="-29.20" y="0" font-family="Liberation Sans" font-weight="bold" font-size="35.0">200</text></g>
<rect x="220.85" y="38.35" width="4.10" height="4.00" fill="#000"/>
<rect x="228.95" y="38.35" width="4.10" height="4.00" fill="#000"/>
<rect x="237.15" y="38.35" width="4.10" height="4.00" fill="#000"/>
<rect x="272.45" y="38.35" width="4.10" height="4.00" fill="#000"/>
<rect x="280.65" y="38.35" width="4.10" height="4.00" fill="#000"/>
<rect x="288.85" y="38.35" width="4.10" height="4.00" fill="#000"/>
<rect x="220.85" y="82.90" width="4.10" height="4.00" fill="#cc1a1e"/>
<rect x="228.95" y="82.90" width="4.10" height="4.00" fill="#cc1a1e"/>
<rect x="237.15" y="82.90" width="4.10" height="4.00" fill="#cc1a1e"/>
<rect x="272.45" y="82.90" width="4.10" height="4.00" fill="#cc1a1e"/>
<rect x="280.65" y="82.90" width="4.10" height="4.00" fill="#cc1a1e"/>
<rect x="288.85" y="82.90" width="4.10" height="4.00" fill="#cc1a1e"/>
<rect x="220.85" y="127.55" width="4.10" height="4.00" fill="#2a08f6"/>
<rect x="228.95" y="127.55" width="4.10" height="4.00" fill="#2a08f6"/>
<rect x="237.15" y="127.55" width="4.10" height="4.00" fill="#2a08f6"/>
<rect x="272.45" y="127.55" width="4.10" height="4.00" fill="#2a08f6"/>
<rect x="280.65" y="127.55" width="4.10" height="4.00" fill="#2a08f6"/>
<rect x="288.85" y="127.55" width="4.10" height="4.00" fill="#2a08f6"/>
<rect x="246.30" y="30.65" width="22.50" height="19.50" fill="#000"/>
<ellipse cx="257.8" cy="85.15" rx="12.5" ry="11.35" fill="#cc1a1e"/>
<polygon points="249,116.1 249,143.3 272.6,129.6" fill="#2a08f6"/>
<text transform="translate(301.00,50.4) scale(1.08,1)" font-family="Liberation Sans" font-weight="bold" font-size="27.4" stroke="#000" stroke-width="0.5" stroke-linejoin="round"><tspan font-size="29.6">S</tspan>i<tspan font-size="20.5" dy="10.6">3</tspan><tspan dy="-10.6" font-size="29.6">N</tspan><tspan font-size="20.5" dy="10.6" dx="-1.2">4</tspan></text>
<text transform="translate(301.00,94.7) scale(1.08,1)" font-family="Liberation Sans" font-weight="bold" font-size="27.4" stroke="#000" stroke-width="0.5" stroke-linejoin="round"><tspan font-size="29.6">S</tspan>i<tspan font-size="29.6">O</tspan><tspan font-size="20.5" dy="10.6" dx="-1.3">2</tspan></text>
<text transform="translate(301.00,138.8) scale(1.1,1)" font-family="Liberation Sans" font-weight="bold" font-size="27.4" stroke="#000" stroke-width="0.5" stroke-linejoin="round"><tspan font-size="29.6">S</tspan>electivity</text>
<text transform="translate(35.75,492.60) rotate(-90) scale(0.8410,1.0000)" font-family="Liberation Sans" font-weight="bold" font-size="50.6" text-anchor="start" fill="#000"  stroke="#000" stroke-width="0.5" stroke-linejoin="round">E</text>
<text transform="translate(35.75,464.25) rotate(-90) scale(0.8884,1.0000)" font-family="Liberation Sans" font-weight="bold" font-size="48.2" text-anchor="start" fill="#000"  stroke="#000" stroke-width="0.5" stroke-linejoin="round">tch rate (nm/min)</text>
<text transform="translate(990.20,459.96) rotate(-90) scale(0.8085,1.0000)" font-family="Liberation Sans" font-weight="bold" font-size="51.0" text-anchor="start" fill="#2a08f6"  stroke="#2a08f6" stroke-width="0.5" stroke-linejoin="round">E</text>
<text transform="translate(990.20,431.55) rotate(-90) scale(0.8849,1.0000)" font-family="Liberation Sans" font-weight="bold" font-size="48.2" text-anchor="start" fill="#2a08f6"  stroke="#2a08f6" stroke-width="0.5" stroke-linejoin="round">tch selectivity</text>
<text transform="translate(203.36,639.20) scale(1.0760,1.0000)" font-family="Liberation Sans" font-weight="normal" font-size="45.8" text-anchor="start" fill="#000" >S</text>
<text transform="translate(234.79,639.20) scale(1.1500,1.0000)" font-family="Liberation Sans" font-weight="normal" font-size="43" text-anchor="start" fill="#000" >u</text>
<text transform="translate(263.61,639.20) scale(1.1500,1.0000)" font-family="Liberation Sans" font-weight="normal" font-size="43" text-anchor="start" fill="#000" >b</text>
<text transform="translate(292.22,639.20) scale(1.1500,1.0000)" font-family="Liberation Sans" font-weight="normal" font-size="43" text-anchor="start" fill="#000" >s</text>
<text transform="translate(318.48,639.20) scale(1.1100,1.0000)" font-family="Liberation Sans" font-weight="normal" font-size="43" text-anchor="start" fill="#000" >t</text>
<text transform="translate(333.13,639.20) scale(1.2500,1.0000)" font-family="Liberation Sans" font-weight="normal" font-size="43" text-anchor="start" fill="#000" >r</text>
<text transform="translate(352.32,639.20) scale(1.0300,1.0000)" font-family="Liberation Sans" font-weight="normal" font-size="43" text-anchor="start" fill="#000" >a</text>
<text transform="translate(378.28,639.20) scale(1.1100,1.0000)" font-family="Liberation Sans" font-weight="normal" font-size="43" text-anchor="start" fill="#000" >t</text>
<text transform="translate(393.50,639.20) scale(1.1500,1.0000)" font-family="Liberation Sans" font-weight="normal" font-size="43" text-anchor="start" fill="#000" >e</text>
<text transform="translate(433.29,639.20) scale(1.0810,1.0000)" font-family="Liberation Sans" font-weight="normal" font-size="45.8" text-anchor="start" fill="#000" >T</text>
<text transform="translate(461.50,639.20) scale(1.1500,1.0000)" font-family="Liberation Sans" font-weight="normal" font-size="43" text-anchor="start" fill="#000" >e</text>
<text transform="translate(487.72,639.20) scale(1.1500,1.0000)" font-family="Liberation Sans" font-weight="normal" font-size="43" text-anchor="start" fill="#000" >m</text>
<text transform="translate(529.81,639.20) scale(1.1500,1.0000)" font-family="Liberation Sans" font-weight="normal" font-size="43" text-anchor="start" fill="#000" >p</text>
<text transform="translate(558.10,639.20) scale(1.1500,1.0000)" font-family="Liberation Sans" font-weight="normal" font-size="43" text-anchor="start" fill="#000" >e</text>
<text transform="translate(583.83,639.20) scale(1.2500,1.0000)" font-family="Liberation Sans" font-weight="normal" font-size="43" text-anchor="start" fill="#000" >r</text>
<text transform="translate(603.12,639.20) scale(1.0300,1.0000)" font-family="Liberation Sans" font-weight="normal" font-size="43" text-anchor="start" fill="#000" >a</text>
<text transform="translate(629.48,639.20) scale(1.1100,1.0000)" font-family="Liberation Sans" font-weight="normal" font-size="43" text-anchor="start" fill="#000" >t</text>
<text transform="translate(644.59,639.20) scale(1.1500,1.0000)" font-family="Liberation Sans" font-weight="normal" font-size="43" text-anchor="start" fill="#000" >u</text>
<text transform="translate(673.03,639.20) scale(1.2500,1.0000)" font-family="Liberation Sans" font-weight="normal" font-size="43" text-anchor="start" fill="#000" >r</text>
<text transform="translate(691.30,639.20) scale(1.1500,1.0000)" font-family="Liberation Sans" font-weight="normal" font-size="43" text-anchor="start" fill="#000" >e</text>
<text transform="translate(730.20,641.50) scale(0.9300,1.0000)" font-family="Liberation Sans" font-weight="normal" font-size="45.6" text-anchor="start" fill="#000" >(</text>
<text transform="translate(796.40,641.50) scale(0.9300,1.0000)" font-family="Liberation Sans" font-weight="normal" font-size="45.6" text-anchor="start" fill="#000" >)</text>
<ellipse cx="756.2" cy="607.3" rx="6.35" ry="5.45" fill="none" stroke="#000" stroke-width="1.6"/>
<path fill="#000" d="M 792.4 605.3 C 789 604.5, 784 604.3, 779.7 604.3 C 769 604.5, 761.9 612, 761.9 622.2 C 761.9 632.5, 769.5 640, 780.4 640 C 787.5 640, 793.5 635.5, 796.7 629.2 L 795.6 628.8 C 792.5 634, 787.5 637.6, 781.5 637.6 C 772.5 637.6, 767 631, 767 622 C 767 613, 773 605.6, 781 605.6 C 785 605.6, 788 607, 790.2 608.9 L 795.3 613.6 Z"/>
</svg></body></html>
